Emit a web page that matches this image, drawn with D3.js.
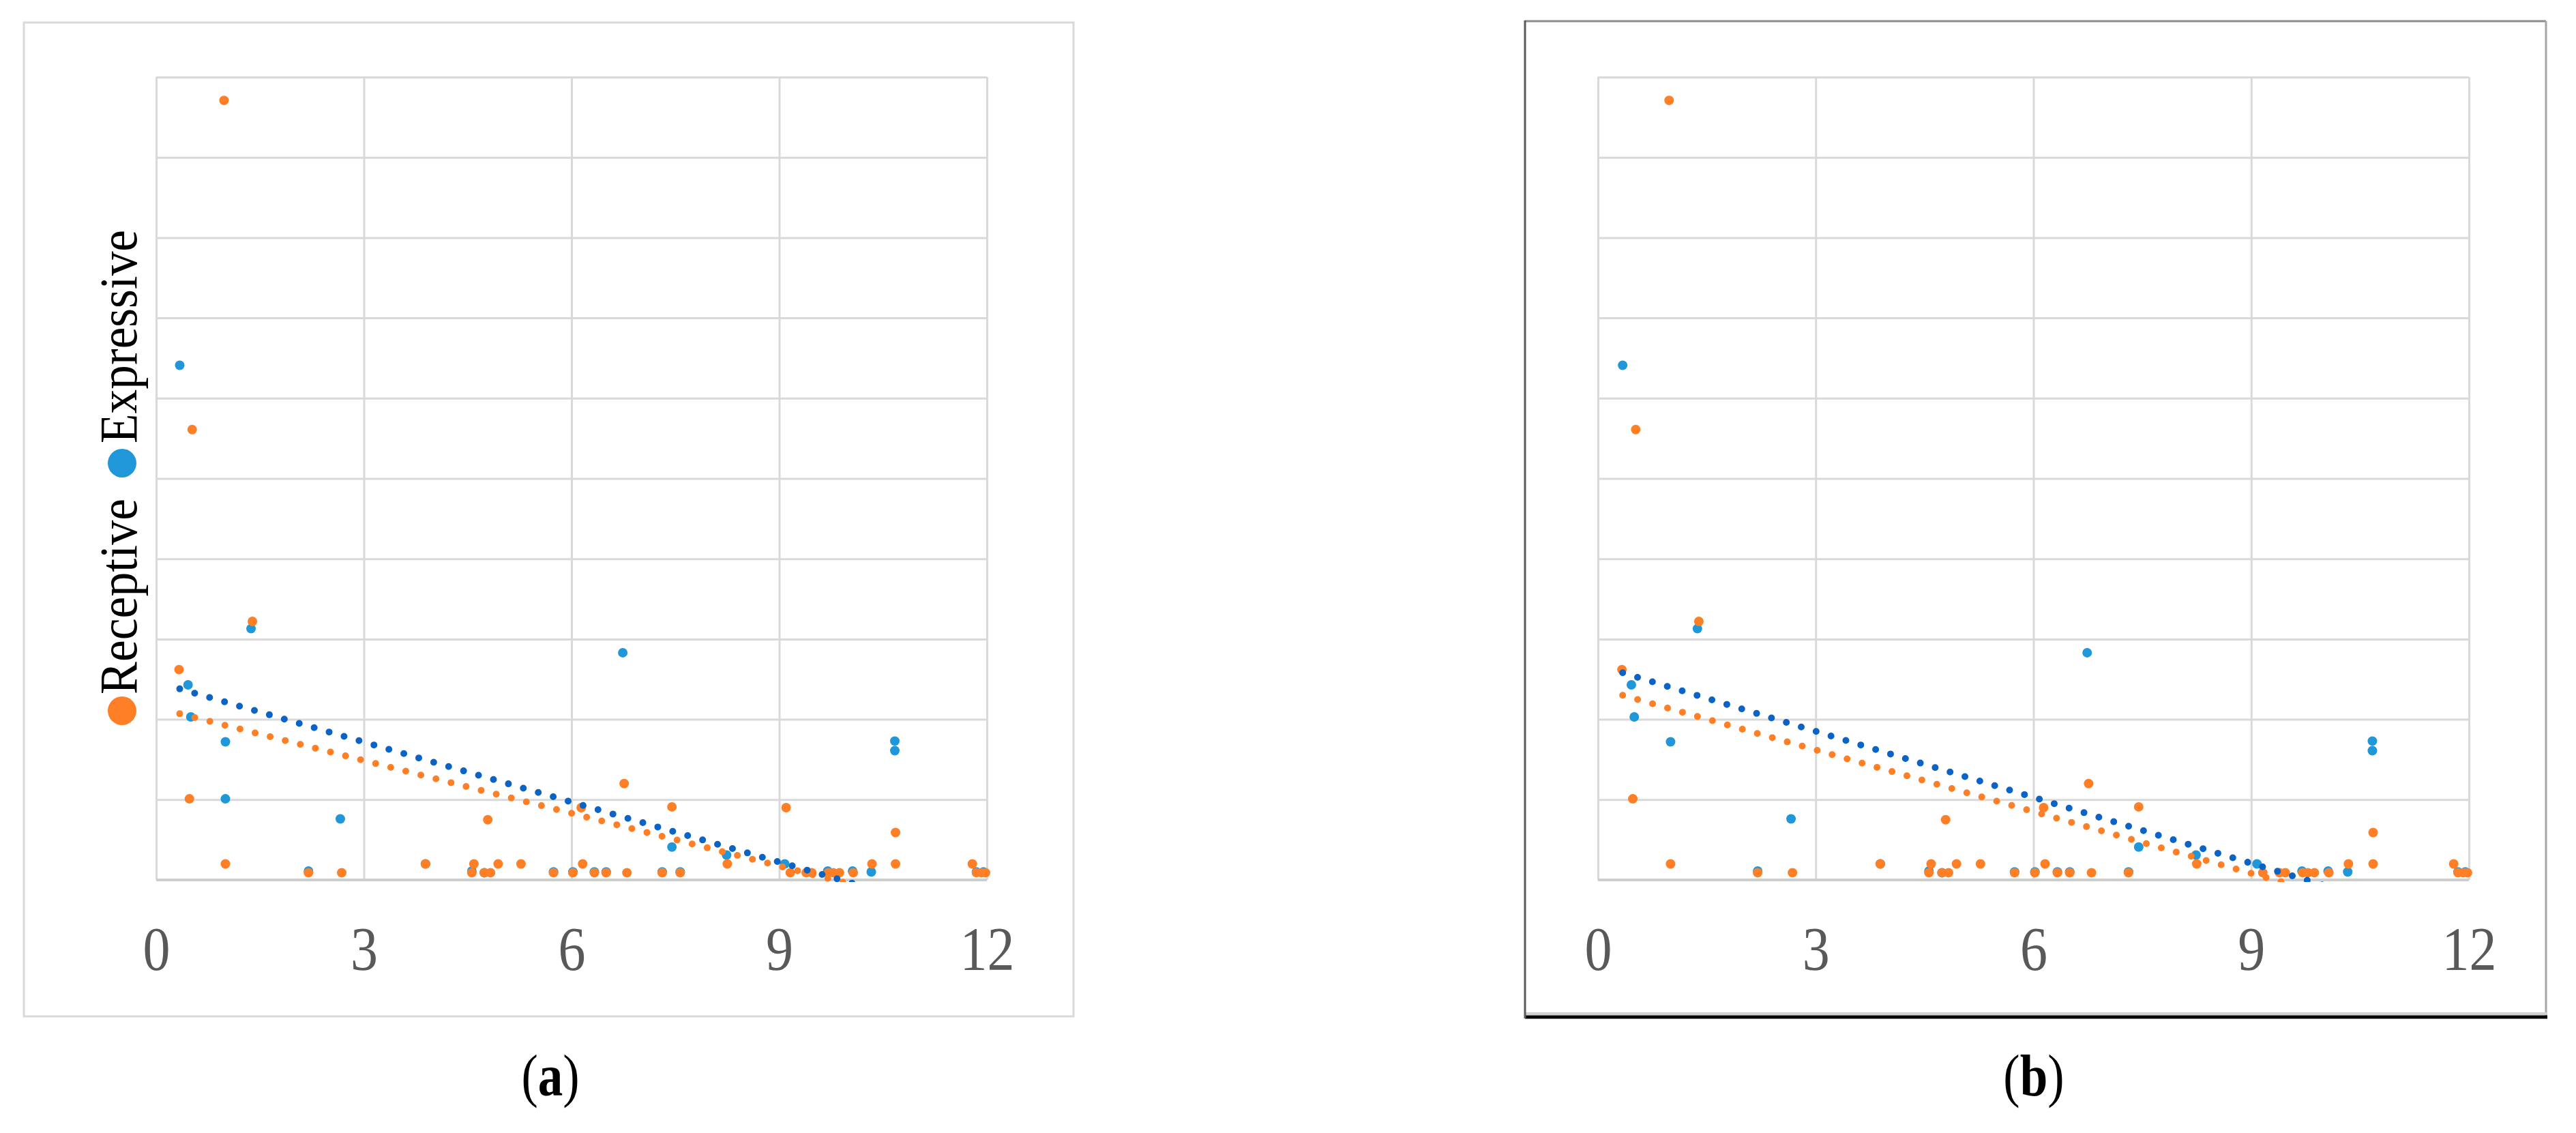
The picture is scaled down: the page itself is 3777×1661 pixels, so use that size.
<!DOCTYPE html>
<html>
<head>
<meta charset="utf-8">
<script src="https://cdn.jsdelivr.net/npm/d3@7/dist/d3.min.js"></script>
<style>
  body { margin: 0; background: #fff; }
  svg text { font-family: "Liberation Serif", "Times New Roman", "DejaVu Serif", serif !important; }
</style>
</head>
<body>
<div class="chart"></div>
<script>
// values; y is in gridline units (10 bands, axis hidden)
const xTicks = [0, 3, 6, 9, 12];
const yTicks = [0, 1, 2, 3, 4, 5, 6, 7, 8, 9, 10];
const seriesNames = ["Receptive", "Expressive"];

// points shown in both panels
const receptive = [
    [0.33, 2.62], [0.52, 5.61], [0.48, 1.01], [0.98, 9.71], [1.0, 0.2], [1.39, 3.22],
    [2.2, 0.09], [2.68, 0.09], [3.89, 0.2], [4.56, 0.09], [4.59, 0.2], [4.74, 0.09],
    [4.79, 0.75], [4.83, 0.09], [4.94, 0.2], [5.27, 0.2], [5.74, 0.09], [6.02, 0.09],
    [6.14, 0.9], [6.16, 0.2], [6.33, 0.09], [6.5, 0.09], [6.76, 1.2], [6.8, 0.09],
    [7.31, 0.09], [7.45, 0.91], [8.25, 0.2], [9.16, 0.09], [9.39, 0.09], [9.47, 0.09],
    [9.71, 0.09], [9.78, 0.09], [9.87, 0.09], [10.07, 0.09], [10.34, 0.2], [10.68, 0.59],
    [10.68, 0.2], [11.79, 0.2], [11.85, 0.09], [11.92, 0.09], [11.98, 0.09]
];
const expressive = [
    [0.34, 6.41], [0.46, 2.43], [0.5, 2.03], [1.0, 1.72], [1.37, 3.13], [2.2, 0.11],
    [2.66, 0.76], [3.89, 0.2], [4.56, 0.11], [4.74, 0.09], [5.74, 0.1], [6.02, 0.1],
    [6.33, 0.1], [6.5, 0.1], [6.74, 2.83], [7.31, 0.1], [7.45, 0.41], [8.24, 0.31],
    [9.08, 0.2], [9.7, 0.11], [10.06, 0.11], [10.33, 0.1], [10.67, 1.73], [10.67, 1.61],
    [11.85, 0.1], [11.95, 0.1]
];
// points that only appear in panel (a)
const receptiveOnlyA = [[9.1, 0.9], [7.57, 0.09]];
const expressiveOnlyA = [[1.0, 1.01], [7.57, 0.1]];

// linear trend lines: y at start and end of the x range
const trendX = [0.34, 11.98];
const receptiveTrendA = [2.07, -0.48];
const expressiveTrendA = [2.38, -0.52];
const receptiveTrendB = [2.30, -0.68];
const expressiveTrendB = [2.58, -0.61];

const colors = { rec: "#ff7f27", exp: "#1f97d8", expTrend: "#0b63c6" };
const serif = "'Liberation Serif', 'Times New Roman', 'DejaVu Serif', serif";
const plotTop = 113, plotBottom = 1290;

const svg = d3.select(".chart").append("svg")
    .attr("width", 3777)
    .attr("height", 1661)
    .style("background", "#fff");

function drawPanel(cfg, recPts, expPts, recTrend, expTrend) {
    const g = svg.append("g");
    const x = d3.scaleLinear().domain([0, 12]).range([cfg.left, cfg.right]);
    const y = d3.scaleLinear().domain([0, 10]).range([plotBottom, plotTop]);

    // horizontal grid
    g.append("g")
        .attr("transform", "translate(" + cfg.left + ",0)")
        .call(d3.axisLeft(y).tickValues(yTicks).tickSize(-(cfg.right - cfg.left)).tickFormat(""))
        .call(a => a.select(".domain").remove())
        .call(a => a.selectAll("line").attr("stroke", "#d9d9d9").attr("stroke-width", 3));

    // vertical grid + labels
    g.append("g")
        .attr("transform", "translate(0," + plotBottom + ")")
        .call(d3.axisBottom(x).tickValues(xTicks).tickSize(-(plotBottom - plotTop)))
        .attr("font-family", serif)
        .call(a => a.select(".domain").remove())
        .call(a => a.selectAll("line").attr("stroke", "#d9d9d9").attr("stroke-width", 3))
        .call(a => a.selectAll("text")
            .attr("y", 132)
            .attr("dy", null)
            .attr("transform", "scale(0.87,1)")
            .attr("fill", "#595959")
            .style("font-size", "92px"));

    g.append("line")
        .attr("x1", cfg.left).attr("x2", cfg.right)
        .attr("y1", plotBottom).attr("y2", plotBottom)
        .attr("stroke", "#cdcdcd").attr("stroke-width", 4);

    g.append("g").selectAll("circle")
        .data(expPts)
        .enter().append("circle")
        .attr("cx", d => x(d[0]))
        .attr("cy", d => y(d[1]))
        .attr("r", 7)
        .attr("fill", colors.exp);

    g.append("g").selectAll("circle")
        .data(recPts)
        .enter().append("circle")
        .attr("cx", d => x(d[0]))
        .attr("cy", d => y(d[1]))
        .attr("r", 7)
        .attr("fill", colors.rec);

    const clipId = "clip" + cfg.id;
    svg.append("clipPath").attr("id", clipId)
        .append("rect")
        .attr("x", cfg.left).attr("y", plotTop)
        .attr("width", cfg.right - cfg.left).attr("height", plotBottom - plotTop + 3);

    const line = d3.line().x(d => x(d[0])).y(d => y(d[1]));
    [[expTrend, colors.expTrend], [recTrend, colors.rec]].forEach(([t, c]) => {
        g.append("path")
            .attr("d", line(trendX.map((v, i) => [v, t[i]])))
            .attr("clip-path", "url(#" + clipId + ")")
            .attr("fill", "none")
            .attr("stroke", c)
            .attr("stroke-width", 10)
            .attr("stroke-linecap", "round")
            .attr("stroke-dasharray", "0 22.8");
    });

    // caption
    const cap = svg.append("text")
        .attr("transform", "translate(" + cfg.capX + ",1606) scale(0.85,1)")
        .attr("text-anchor", "middle")
        .attr("font-family", serif)
        .style("font-size", "86px")
        .attr("fill", "#000");
    cap.append("tspan").text("(");
    cap.append("tspan").attr("font-weight", "bold").text(cfg.letter);
    cap.append("tspan").text(")");
}

// frame (a)
svg.append("rect")
    .attr("x", 35).attr("y", 33).attr("width", 1539).attr("height", 1457)
    .attr("fill", "none").attr("stroke", "#d9d9d9").attr("stroke-width", 3);

// frame (b)
svg.append("line").attr("x1", 2236).attr("x2", 3733).attr("y1", 31).attr("y2", 31)
    .attr("stroke", "#8c8c8c").attr("stroke-width", 3);
svg.append("line").attr("x1", 3733).attr("x2", 3733).attr("y1", 31).attr("y2", 1491)
    .attr("stroke", "#a6a6a6").attr("stroke-width", 3);
svg.append("line").attr("x1", 2236).attr("x2", 3735).attr("y1", 1486).attr("y2", 1486)
    .attr("stroke", "#d0d0d0").attr("stroke-width", 4);
svg.append("line").attr("x1", 2236).attr("x2", 3735).attr("y1", 1491).attr("y2", 1491)
    .attr("stroke", "#000").attr("stroke-width", 5);
svg.append("line").attr("x1", 2236).attr("x2", 2236).attr("y1", 30).attr("y2", 1493)
    .attr("stroke", "#5a5a5a").attr("stroke-width", 3);

drawPanel({ id: "a", left: 229, right: 1447, capX: 807, letter: "a" },
    receptive.concat(receptiveOnlyA), expressive.concat(expressiveOnlyA),
    receptiveTrendA, expressiveTrendA);
drawPanel({ id: "b", left: 2343, right: 3620, capX: 2982, letter: "b" },
    receptive, expressive, receptiveTrendB, expressiveTrendB);

// rotated legend, panel (a) only
const legendPos = [{ cy: 1042, ty: 1018, len: 287 }, { cy: 679, ty: 650, len: 313 }];
const legend = svg.selectAll(".legend")
    .data(seriesNames)
    .enter().append("g")
    .attr("class", "legend");

legend.append("circle")
    .attr("cx", 179)
    .attr("cy", (d, i) => legendPos[i].cy)
    .attr("r", 21)
    .attr("fill", (d, i) => i === 0 ? colors.rec : colors.exp);

legend.append("text")
    .attr("transform", (d, i) => "translate(200," + legendPos[i].ty + ") rotate(-90)")
    .attr("textLength", (d, i) => legendPos[i].len)
    .attr("lengthAdjust", "spacingAndGlyphs")
    .attr("font-family", serif)
    .style("font-size", "78px")
    .attr("fill", "#000")
    .text(d => d);
</script>
</body>
</html>
